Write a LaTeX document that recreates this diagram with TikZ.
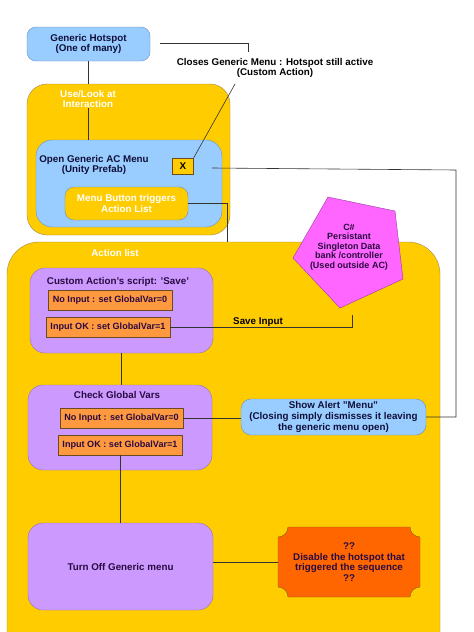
\documentclass[tikz,border=0pt]{standalone}
\usepackage{fontspec}
\setmainfont{Liberation Sans}
\definecolor{ylw}{HTML}{FFCC00}
\definecolor{ylwb}{HTML}{A08A50}
\definecolor{blu}{HTML}{99CCFF}
\definecolor{blub}{HTML}{6C8EBF}
\definecolor{pur}{HTML}{CC99FF}
\definecolor{purb}{HTML}{9673A6}
\definecolor{org}{HTML}{FF9940}
\definecolor{orgb}{HTML}{6B4A20}
\definecolor{dorg}{HTML}{FF6600}
\definecolor{dorgb}{HTML}{8A6000}
\definecolor{mag}{HTML}{FF66FF}
\definecolor{magb}{HTML}{9A3AA0}
\definecolor{navy}{HTML}{10103A}
\definecolor{dpur}{HTML}{2A0A40}
\definecolor{lnc}{HTML}{333333}
\tikzset{
  x=1pt,y=-1pt,
  txt/.style={font=\bfseries\fontsize{9.8}{10.8}\selectfont,align=center,inner sep=0pt},
  ybox/.style={draw=ylwb,fill=ylw,rounded corners=#1},
  bbox/.style={draw=blub,fill=blu,rounded corners=#1,txt,text=navy},
  pbox/.style={draw=purb,fill=pur,rounded corners=15pt},
  obox/.style={draw=orgb,fill=org,txt,font=\bfseries\fontsize{9.1}{10}\selectfont,text=dpur,minimum height=20pt},
  conn/.style={draw=lnc,line width=0.6pt},
}
\begin{document}
\begin{tikzpicture}
\useasboundingbox (0,0) rectangle (474,632);
\fill[white] (0,0) rectangle (474,632);
% big action list container
\draw[ybox=32pt] (7,242) rectangle (440,680);
% hotspot
\node[bbox=9pt,minimum width=123pt,minimum height=34pt] (hs) at (88.5,44) {Generic Hotspot\\(One of many)};
% use/look container
\node[ybox=20pt,minimum width=203pt,minimum height=151pt] (y1) at (128.5,159.5) {};
\node[txt,text=white] (ul) at (88,99) {Use/Look at\\Interaction};
\node[bbox=16pt,minimum width=186pt,minimum height=87pt] (menu) at (129,183.5) {};
\node[txt,text=navy] (menut) at (94,165) {Open Generic AC Menu\\(Unity Prefab)};
\node[draw=orgb,fill=ylw,txt,minimum width=21pt,minimum height=16pt] (xb) at (183,166) {X};
\node[ybox=9pt,draw=blub,txt,text=white,minimum width=123pt,minimum height=33pt] (mb) at (126.5,203.5) {Menu Button triggers\\Action List};
% closes label
\node[txt] (cl) at (275,68) {Closes Generic Menu : Hotspot still active\\(Custom Action)};
\coordinate (c1a) at (160,43);
\coordinate (c1b) at (248,52);
\coordinate (c2) at (235,84);
\coordinate (c3) at (212,168);
\coordinate (c3b) at (456,170);
% action list label
\node[txt,text=white] (al) at (115,253) {Action list};
% custom action
\node[pbox,minimum width=183pt,minimum height=85pt] (ca) at (121.5,310.5) {};
\node[txt,text=dpur] (cat) at (118,282) {Custom Action's script: 'Save'};
\node[obox,minimum width=124pt] (ni1) at (110,300) {No Input : set GlobalVar=0};
\node[obox,minimum width=124pt] (io1) at (108,327) {Input OK : set GlobalVar=1};
% pentagon
\coordinate (p1) at (328,197);
\coordinate (p2) at (395,211);
\coordinate (p3) at (403,279);
\coordinate (p4) at (340,308);
\coordinate (p5) at (293,258);
\draw[draw=magb,fill=mag] (p1) -- (p2) -- (p3) -- (p4) -- (p5) -- cycle;
\node[txt,font=\bfseries\fontsize{9}{9.6}\selectfont,text=dpur] (pt) at (349,247) {C\#\\Persistant\\Singleton Data\\bank /controller\\(Used outside AC)};
\coordinate (sv) at (352,315);
% check global vars
\node[pbox,minimum width=184pt,minimum height=85pt] (cg) at (120,427.5) {};
\node[txt,text=dpur] (cgt) at (117,395) {Check Global Vars};
\node[obox,minimum width=123pt] (ni2) at (121.5,418) {No Input : set GlobalVar=0};
\node[obox,minimum width=124pt] (io2) at (120,445) {Input OK : set GlobalVar=1};
% show alert
\node[bbox=10pt,minimum width=185pt,minimum height=36pt] (sa) at (333.5,417) {Show Alert "Menu"\\(Closing simply dismisses it leaving\\the generic menu open)};
% turn off
\node[pbox,txt,text=dpur,minimum width=185pt,minimum height=87pt] (to) at (120.5,566.5) {Turn Off Generic menu};
% disable
\draw[draw=dorgb,fill=dorg] (288,527) -- (410,527) arc[start angle=180,end angle=90,radius=10]
  -- (420,587) arc[start angle=270,end angle=180,radius=10]
  -- (288,597) arc[start angle=360,end angle=270,radius=10]
  -- (278,537) arc[start angle=90,end angle=0,radius=10] -- cycle;
\node[txt,text=dpur,minimum width=142pt,minimum height=70pt] (dis) at (349,562) {??\\Disable the hotspot that\\triggered the sequence\\??};
% connectors
\draw[conn] (c1a) -| (c1b);
\draw[conn] (hs.south -| ul.north) -- (y1.north -| ul.north);
\draw[conn] (ul.south) -- (menu.north -| ul.south);
\draw[conn] (xb.north east) -- (c2);
\draw[conn] (c3) -- (c3b) -- (c3b |- sa.east) -- (sa.east);
\draw[conn] (mb.east) -| (227,242);
\draw[conn] (io1.east) -| (sv);
\node[txt] (si) at (258,322) {Save Input};
\draw[conn] (ca.south) -- (ca.south |- cg.north);
\draw[conn] (ni2.east) -- (sa.west |- ni2.east);
\draw[conn] (io2.south) -- (io2.south |- to.north);
\draw[conn] (dis.west -| to.east) -- (dis.west);
\end{tikzpicture}
\end{document}
